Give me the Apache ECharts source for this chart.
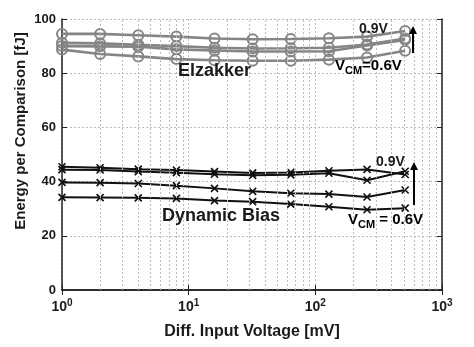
<!DOCTYPE html>
<html><head><meta charset="utf-8">
<script src="https://cdn.jsdelivr.net/npm/echarts@6/dist/echarts.min.js"></script>
<style>html,body{margin:0;padding:0;background:#fff}#c{width:474px;height:347px}</style>
</head><body><div id="c"></div>
<script>
const inputMv = [1, 2, 4, 8, 16, 32, 64, 128, 256, 512];
const elzakker09 = [94.5, 94.5, 94.0, 93.5, 92.8, 92.5, 92.6, 92.9, 93.5, 95.6];
const elzakker08 = [91.2, 91.0, 90.5, 90.0, 89.4, 89.1, 89.2, 89.4, 90.6, 92.8];
const elzakker07 = [90.0, 89.9, 89.8, 88.8, 88.4, 88.0, 88.0, 88.1, 90.2, 92.3];
const elzakker06 = [88.7, 87.1, 86.2, 85.2, 84.8, 84.6, 84.6, 85.0, 85.8, 88.3];
const dynBias09 = [45.5, 45.1, 44.6, 44.3, 43.7, 43.2, 43.4, 44.0, 44.5, 42.6];
const dynBias08 = [44.4, 44.3, 43.7, 43.3, 42.7, 42.3, 42.5, 43.1, 40.5, 43.8];
const dynBias07 = [39.7, 39.6, 39.3, 38.5, 37.5, 36.4, 35.7, 35.4, 34.3, 36.9];
const dynBias06 = [34.2, 34.1, 34.0, 33.8, 33.0, 32.6, 31.7, 30.7, 29.6, 30.2];
const minorGridX = [2,3,4,5,6,7,8,9,20,30,40,50,60,70,80,90,200,300,400,500,600,700,800,900];
const yTicks = [0, 20, 40, 60, 80, 100];

const FONT = 'Liberation Sans';
const pair = (arr) => inputMv.map((x, i) => [x, arr[i]]);
const xSym = 'path://M0 0L10 10M10 0L0 10';

function elzSeries(name, arr) {
  return {
    name, type: 'line', data: pair(arr), xAxisIndex: 0, yAxisIndex: 0,
    symbol: 'circle', symbolSize: 10,
    lineStyle: { color: '#858585', width: 2.6 },
    itemStyle: { color: 'rgba(255,255,255,0)', borderColor: '#858585', borderWidth: 2 },
    silent: true, z: 3
  };
}
function dynSeries(name, arr) {
  return {
    name, type: 'line', data: pair(arr), xAxisIndex: 0, yAxisIndex: 0,
    symbol: xSym, symbolSize: 7,
    lineStyle: { color: '#111', width: 2 },
    itemStyle: { color: 'none', borderColor: '#111', borderWidth: 1.6 },
    silent: true, z: 4
  };
}

const chart = echarts.init(document.getElementById('c'), null, { renderer: 'canvas' });
const txt = { fontFamily: FONT, fontWeight: 'bold', color: '#1a1a1a' };

chart.setOption({
  animation: false,
  backgroundColor: '#fff',
  grid: { left: 62, right: 32, top: 19, bottom: 57 },
  xAxis: [
    {
      type: 'log', logBase: 10, min: 1, max: 1000, position: 'bottom',
      name: 'Diff. Input Voltage [mV]', nameLocation: 'middle', nameGap: 34,
      nameTextStyle: { ...txt, fontSize: 16 },
      axisLine: { lineStyle: { color: '#222', width: 1.5 } },
      axisTick: { inside: true, length: 5, lineStyle: { color: '#222' } },
      axisLabel: {
        margin: 8,
        formatter: v => '{b|10}{s|' + Math.round(Math.log10(v)) + '}',
        rich: {
          b: { ...txt, fontSize: 14, lineHeight: 18 },
          s: { ...txt, fontSize: 10, verticalAlign: 'top', lineHeight: 12 }
        }
      },
      splitLine: { show: true, lineStyle: { color: '#bbb', type: [2, 2], width: 1 } }
    },
    {
      type: 'log', logBase: 10, min: 1, max: 1000, position: 'top',
      axisLine: { lineStyle: { color: '#222', width: 1.5 } },
      axisTick: { inside: true, length: 5, lineStyle: { color: '#222' } },
      axisLabel: { show: false }, splitLine: { show: false }
    }
  ],
  yAxis: [
    {
      type: 'value', min: 0, max: 100, interval: 20, position: 'left',
      axisLine: { show: true, lineStyle: { color: '#222', width: 1.5 } },
      axisTick: { show: true, inside: true, length: 5, lineStyle: { color: '#222' } },
      axisLabel: { ...txt, fontSize: 13, margin: 6, formatter: v => yTicks.includes(v) ? String(v) : '' },
      splitLine: { show: true, lineStyle: { color: '#bbb', type: [2, 2], width: 1 } }
    },
    {
      type: 'value', min: 0, max: 100, interval: 20, position: 'right',
      axisLine: { show: true, lineStyle: { color: '#222', width: 1.5 } },
      axisTick: { show: true, inside: true, length: 5, lineStyle: { color: '#222' } },
      axisLabel: { show: false }, splitLine: { show: false }
    }
  ],
  series: [
    {
      type: 'line', data: [], silent: true,
      markLine: {
        silent: true, symbol: 'none', label: { show: false },
        lineStyle: { color: '#bbb', type: [2, 2], width: 1 },
        data: minorGridX.map(v => ({ xAxis: v }))
      }
    },
    elzSeries('Elzakker 0.9V', elzakker09),
    elzSeries('Elzakker 0.8V', elzakker08),
    elzSeries('Elzakker 0.7V', elzakker07),
    elzSeries('Elzakker 0.6V', elzakker06),
    dynSeries('Dynamic Bias 0.9V', dynBias09),
    dynSeries('Dynamic Bias 0.8V', dynBias08),
    dynSeries('Dynamic Bias 0.7V', dynBias07),
    dynSeries('Dynamic Bias 0.6V', dynBias06)
  ],
  graphic: [
    { type: 'text', x: 21, y: 131, rotation: Math.PI / 2, z: 10, style: { text: 'Energy per Comparison [fJ]', font: 'bold 15px "Liberation Sans"', fill: '#1a1a1a', align: 'center', verticalAlign: 'middle' } },
    { type: 'text', left: 178, top: 62, z: 10, style: { text: 'Elzakker', font: 'bold 18px "Liberation Sans"', fill: '#1a1a1a' } },
    { type: 'text', left: 162, top: 207, z: 10, style: { text: 'Dynamic Bias', font: 'bold 18px "Liberation Sans"', fill: '#1a1a1a' } },
    { type: 'text', left: 359, top: 22, z: 10, style: { text: '0.9V', font: 'bold 14px "Liberation Sans"', fill: '#1a1a1a' } },
    { type: 'text', left: 376, top: 155, z: 10, style: { text: '0.9V', font: 'bold 14px "Liberation Sans"', fill: '#1a1a1a' } },
    { type: 'text', left: 335, top: 58, z: 10, style: {
        text: '{v|V}{s|CM}{v|=0.6V}',
        rich: { v: { ...txt, fontSize: 15, lineHeight: 18 }, s: { ...txt, fontSize: 11, verticalAlign: 'bottom', padding: [10, 0, 0, 0] } } } },
    { type: 'text', left: 348, top: 212, z: 10, style: {
        text: '{v|V}{s|CM}{v| = 0.6V}',
        rich: { v: { ...txt, fontSize: 15, lineHeight: 18 }, s: { ...txt, fontSize: 11, verticalAlign: 'bottom', padding: [10, 0, 0, 0] } } } },
    { type: 'line', z: 10, shape: { x1: 413, y1: 53, x2: 413, y2: 32 }, style: { stroke: '#000', lineWidth: 2 } },
    { type: 'polygon', z: 10, shape: { points: [[409, 34], [417, 34], [413, 26]] }, style: { fill: '#000' } },
    { type: 'line', z: 10, shape: { x1: 414, y1: 205, x2: 414, y2: 168 }, style: { stroke: '#000', lineWidth: 2 } },
    { type: 'polygon', z: 10, shape: { points: [[410, 170], [418, 170], [414, 162]] }, style: { fill: '#000' } }
  ]
});
</script></body></html>
